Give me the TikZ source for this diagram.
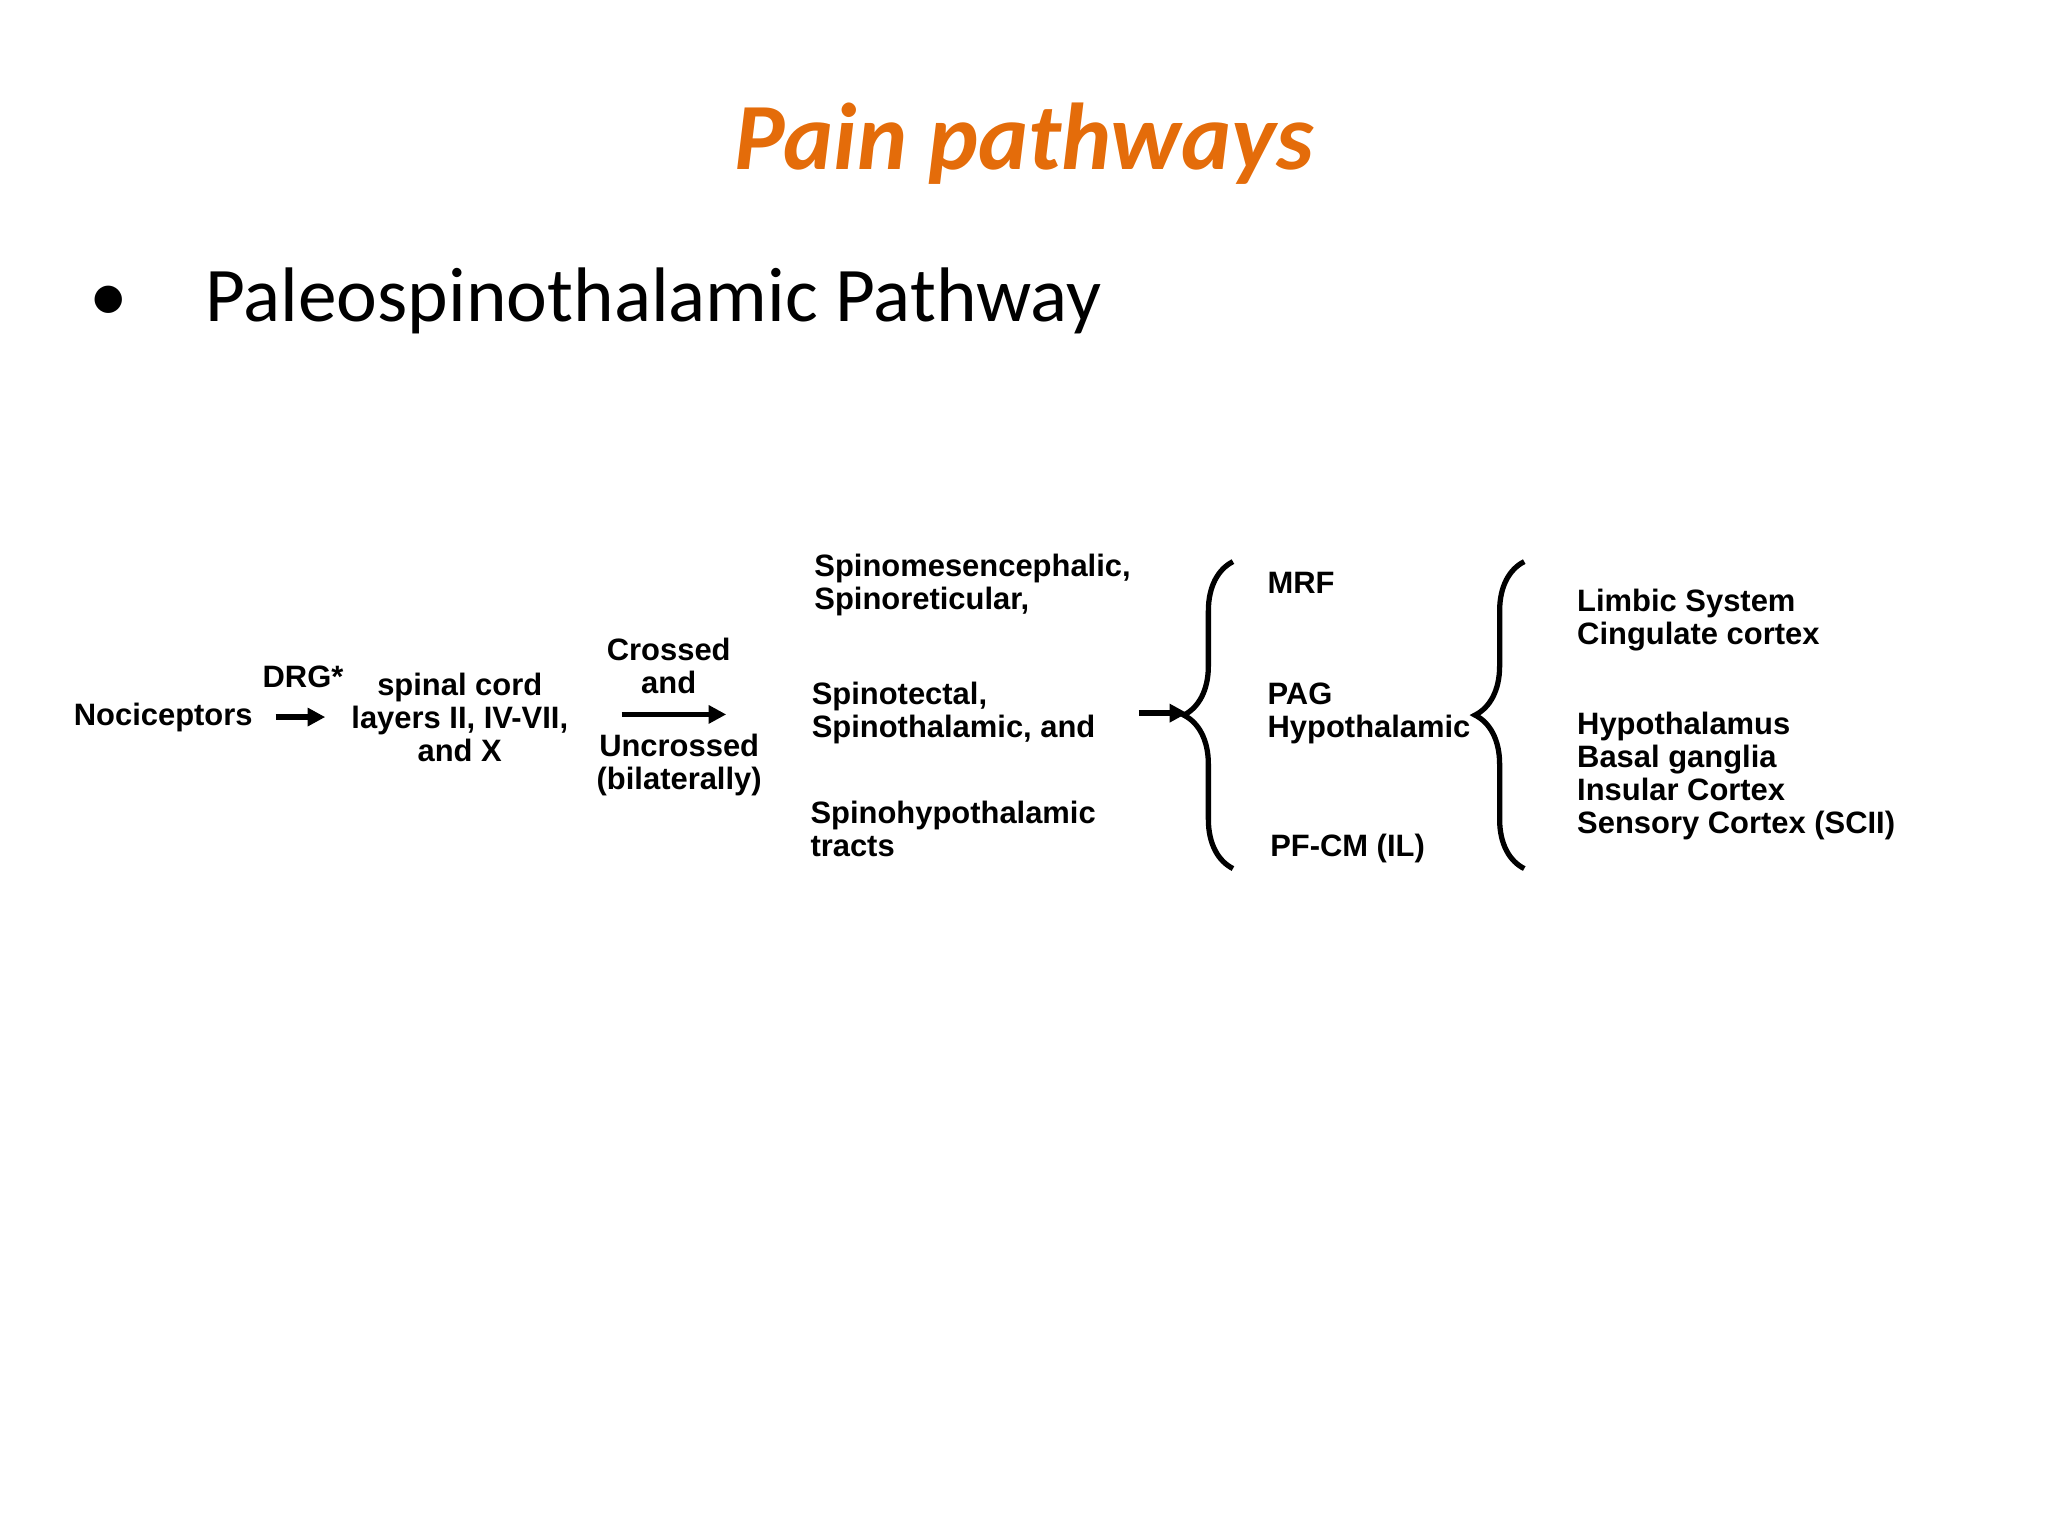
\documentclass[tikz,border=0pt]{standalone}
\usepackage{fontspec}
\setmainfont{Carlito}
\newfontfamily\diag{Liberation Sans}
\usetikzlibrary{arrows.meta,decorations.pathreplacing}
\definecolor{ttl}{RGB}{228,108,10}
\begin{document}
\begin{tikzpicture}[x=0.01306cm,y=-0.01306cm,
  t/.style={font=\diag\bfseries\fontsize{8.8}{9.4}\selectfont,inner sep=0pt,align=left},
  tc/.style={t,align=center},
  ar/.style={line width=1.6pt,-{Triangle[length=5pt,width=5pt]}},
  br/.style={line width=1.5pt,decorate,decoration={brace,amplitude=14pt,aspect=0.5}}]
\useasboundingbox (0,0) rectangle (1568,1176);
\node[text=ttl,font=\bfseries\itshape\fontsize{27}{30}\selectfont] (title) at (784,110) {Pain pathways};
\node[anchor=west,font=\fontsize{22}{26}\selectfont,inner sep=0pt] (b) at (68,230) {•\hspace{22pt}Paleospinothalamic Pathway};
\node[t,anchor=west] (noc) at (56,549) {Nociceptors};
\node[tc] (drg) at (232,518) {DRG*};
\node[tc] (sc) at (352,549) {spinal cord\\layers II, IV-VII,\\and X};
\node[tc] (cr) at (512,510) {Crossed\\and};
\node[tc] (un) at (520,586) {Uncrossed\\(bilaterally)};
\coordinate (a1) at (211,549); \coordinate (a2) at (249,549);
\coordinate (b1) at (476,547); \coordinate (b2) at (556,547);
\coordinate (c1) at (872,546); \coordinate (c2) at (909,546);
\draw[ar] (a1) -- (a2);
\draw[ar] (b1) -- (b2);
\draw[ar] (c1) -- (c2);
\node[t,anchor=west] (s1) at (623,448) {Spinomesencephalic,\\Spinoreticular,};
\node[t,anchor=west] (s2) at (621,546) {Spinotectal,\\Spinothalamic, and};
\node[t,anchor=west] (s3) at (620,635) {Spinohypothalamic\\tracts};
\coordinate (p1) at (944,665); \coordinate (p2) at (944,430);
\draw[br] (p1) -- (p2);
\node[t,anchor=west] (m1) at (970,446) {MRF};
\node[t,anchor=west] (m2) at (970,546) {PAG\\Hypothalamic};
\node[t,anchor=west] (m3) at (972,650) {PF-CM (IL)};
\coordinate (q1) at (1167,665); \coordinate (q2) at (1167,430);
\draw[br] (q1) -- (q2);
\node[t,anchor=west] (l1) at (1207,475) {Limbic System\\Cingulate cortex};
\node[t,anchor=west] (l2) at (1207,594) {Hypothalamus\\Basal ganglia\\Insular Cortex\\Sensory Cortex (SCII)};
\end{tikzpicture}
\end{document}
